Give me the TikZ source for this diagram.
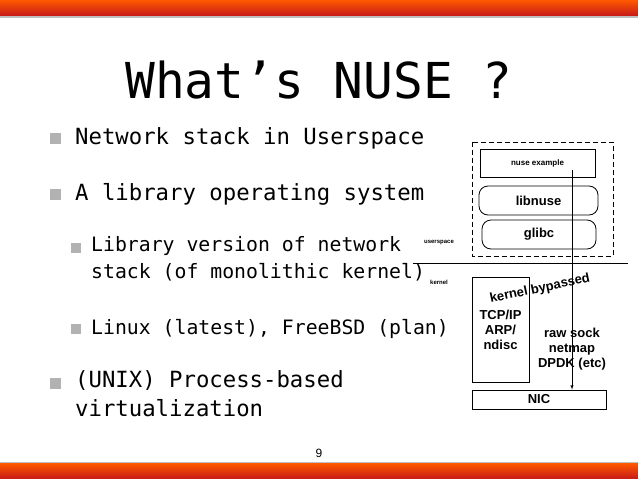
\documentclass[tikz,border=0pt]{standalone}
\usepackage{fontspec}
\setmainfont{DejaVu Sans Mono}
\newfontfamily\dsans{Liberation Sans}
\begin{document}
\begin{tikzpicture}[x=1pt,y=-1pt,
  bul/.style={fill=black!30,minimum size=11pt,inner sep=0pt},
  sbul/.style={fill=black!30,minimum size=9.5pt,inner sep=0pt},
  btxt/.style={anchor=west,inner sep=0pt,font=\fontsize{22.3}{29}\selectfont,align=left},
  stxt/.style={anchor=west,inner sep=0pt,font=\fontsize{19.8}{27}\selectfont,align=left},
  lbl/.style={font=\dsans\bfseries\fontsize{13}{15}\selectfont,inner sep=0pt,align=center},
  box/.style={draw,line width=0.8pt}]
\useasboundingbox (0,0) rectangle (638,479);
\shade[top color=orange!70!red,bottom color=red!75!black!90] (0,0) rectangle (638,16);
\fill[black!25] (0,16) rectangle (638,17.5);
\shade[top color=orange!70!red,bottom color=red!75!black!90] (0,463) rectangle (638,479);
\fill[black!25] (0,461.5) rectangle (638,463);
\node (title) at (319,80) {\fontsize{49.5}{55}\selectfont What’s NUSE ?};
\node[bul] (b1) at (55,138) {}; \node[btxt] (t1) at (75,138) {Network stack in Userspace};
\node[bul] (b2) at (55,194) {}; \node[btxt] (t2) at (75,194) {A library operating system};
\node[sbul] (b3) at (76,248) {}; \node[stxt,anchor=north west] (t3) at (91,236) {Library version of network\\stack (of monolithic kernel)};
\node[sbul] (b4) at (76,329) {}; \node[stxt] (t4) at (91,329) {Linux (latest), FreeBSD (plan)};
\node[bul] (b5) at (55,383) {}; \node[btxt,anchor=north west] (t5) at (75,370) {(UNIX) Process-based\\virtualization};
\node (pg) at (319,453) {\dsans\fontsize{12}{14}\selectfont 9};
% diagram
\draw[box,dash pattern=on 5pt off 3pt] (472,142) rectangle (613,256);
\node[box,lbl,minimum width=115pt,minimum height=28pt,font=\dsans\bfseries\fontsize{8}{10}\selectfont] (nuse) at (537.5,163) {nuse example};
\node[box,lbl,rounded corners=9pt,minimum width=119pt,minimum height=29pt] (lib) at (538.5,200.5) {libnuse};
\node[box,lbl,rounded corners=9pt,minimum width=114pt,minimum height=29pt] (glibc) at (539,234.5) {glibc};
\node[lbl,font=\dsans\bfseries\fontsize{6}{7}\selectfont] (us) at (439,243) {userspace};
\node[lbl,font=\dsans\bfseries\fontsize{6}{7}\selectfont] (kn) at (439,282) {kernel};
\coordinate (l1) at (413,263); \coordinate (l2) at (628,263);
\draw[line width=0.8pt] (l1) -- (l2);
\node[box,minimum width=57pt,minimum height=105pt] (tcp) at (500.5,329.5) {};
\node[lbl] (tcpt) at (500.5,330) {TCP/IP\\ARP/\\ndisc};
\node[box,lbl,minimum width=134pt,minimum height=19pt] (nic) at (539,399.5) {NIC};
\coordinate (a0) at (572,170);
\draw[-latex,line width=0.5pt] (a0) -- (a0 |- nic.north);
\node[lbl,rotate=12,inner sep=1pt] (kb) at (540,289) {kernel bypassed};
\node[lbl,inner sep=1pt] (raw) at (572,349) {raw sock\\netmap\\DPDK (etc)};
\end{tikzpicture}
\end{document}
